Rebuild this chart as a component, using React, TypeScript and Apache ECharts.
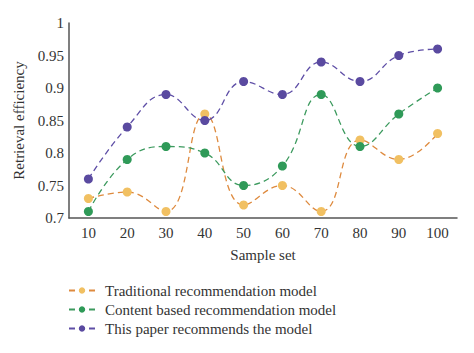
import React, { useEffect, useRef } from "react";
import * as echarts from "echarts";

const categories = ["10", "20", "30", "40", "50", "60", "70", "80", "90", "100"];
const traditional = [0.73, 0.74, 0.71, 0.86, 0.72, 0.75, 0.71, 0.82, 0.79, 0.83];
const contentBased = [0.71, 0.79, 0.81, 0.8, 0.75, 0.78, 0.89, 0.81, 0.86, 0.9];
const thisPaper = [0.76, 0.84, 0.89, 0.85, 0.91, 0.89, 0.94, 0.91, 0.95, 0.96];
const seriesNames = [
  "Traditional recommendation model",
  "Content based recommendation model",
  "This paper recommends the model",
];
const yTicks = ["0.7", "0.75", "0.8", "0.85", "0.9", "0.95", "1"];

const FONT = "Liberation Serif";

export default function App() {
  const ref = useRef<HTMLDivElement>(null);
  useEffect(() => {
    if (!ref.current) return;
    const chart = echarts.init(ref.current, null, { renderer: "svg" });
    const mk = (name: string, data: number[], lineColor: string, dotColor: string) => ({
      name,
      type: "line",
      data,
      smooth: 0.45,
      symbol: "circle",
      symbolSize: 9,
      lineStyle: { color: lineColor, width: 1.3, type: [6, 4] },
      itemStyle: { color: dotColor, borderWidth: 0 },
      z: 2,
    });
    chart.setOption({
      animation: false,
      backgroundColor: "#ffffff",
      textStyle: { fontFamily: FONT },
      grid: { left: 69, right: 17, top: 23, bottom: 135, containLabel: false },
      xAxis: {
        type: "category",
        data: categories,
        boundaryGap: true,
        name: "Sample set",
        nameLocation: "middle",
        nameGap: 29,
        nameTextStyle: { fontFamily: FONT, fontSize: 15, color: "#333" },
        axisLine: { lineStyle: { color: "#555", width: 1.5 } },
        axisTick: { show: false },
        axisLabel: { fontFamily: FONT, fontSize: 15, color: "#333", margin: 7 },
      },
      yAxis: {
        type: "value",
        min: 0.7,
        max: 1,
        interval: 0.05,
        name: "Retrieval efficiency",
        nameLocation: "middle",
        nameGap: 39,
        nameTextStyle: { fontFamily: FONT, fontSize: 15, color: "#333" },
        axisLine: { show: true, lineStyle: { color: "#555", width: 1.5 } },
        axisTick: { show: false },
        splitLine: { show: false },
        axisLabel: {
          fontFamily: FONT,
          fontSize: 15,
          color: "#333",
          margin: 5,
          formatter: (v: number) => {
            const i = Math.round((v - 0.7) / 0.05);
            return yTicks[i] ?? "";
          },
        },
      },
      legend: {
        orient: "vertical",
        left: 63,
        top: 278,
        itemGap: 4,
        itemWidth: 26,
        itemHeight: 8,
        data: seriesNames,
        textStyle: { fontFamily: FONT, fontSize: 15, color: "#333", padding: [0, 0, 0, 5] },
      },
      series: [
        mk(seriesNames[0], traditional, "#DE8A3E", "#F1C062"),
        mk(seriesNames[1], contentBased, "#3C9A5E", "#2F9A58"),
        mk(seriesNames[2], thisPaper, "#5E4EA6", "#5A4AA0"),
      ],
    });
    return () => chart.dispose();
  }, []);
  return <div ref={ref} style={{ width: 474, height: 353, position: "absolute", left: 0, top: 0 }} />;
}
